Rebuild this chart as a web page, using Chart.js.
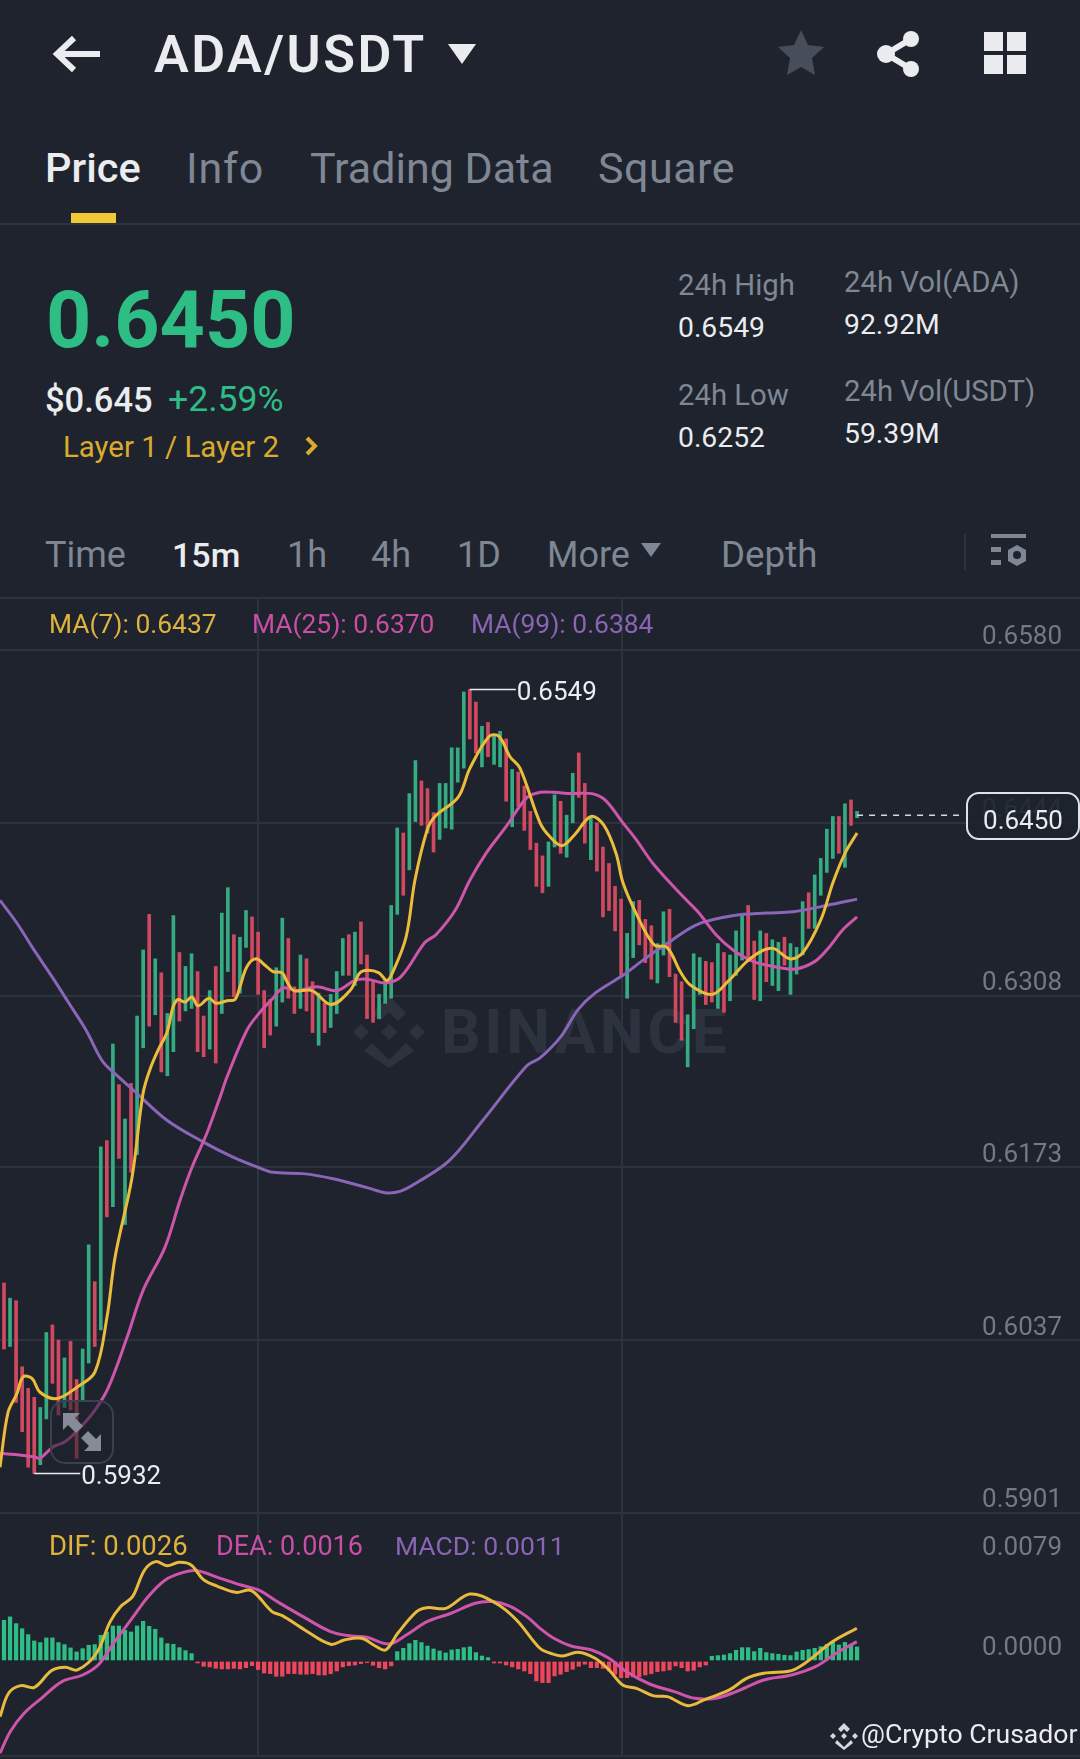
<!DOCTYPE html>
<html>
<head>
<meta charset="utf-8">
<title>ADA/USDT</title>
<script src="https://cdn.jsdelivr.net/npm/chart.js@4"></script>
<style>
html, body { margin: 0; padding: 0; background: #1e232d; }
#page { position: relative; width: 1080px; height: 1759px; overflow: hidden; background: #1e232d; font-family: Roboto, sans-serif; }
canvas { position: absolute; left: 0; }
.t { position: absolute; white-space: nowrap; line-height: 1; transform: translateY(-50%); }
.gray { color: #7f8794; }
.white { color: #eaecef; }
.rule { position: absolute; left: 0; width: 1080px; height: 2px; background: #2d333e; }
svg { position: absolute; }
</style>
</head>
<body>
<div id="page">

  <!-- header -->
  <svg style="left:52px;top:33px" width="52" height="42" viewBox="0 0 52 42"><path d="M48 21H6M22 5L5 21l17 16" fill="none" stroke="#eaecef" stroke-width="6"/></svg>
  <div class="t white" style="left:154px;top:55px;font-size:52px;font-weight:600;letter-spacing:2.5px">ADA/USDT</div>
  <svg style="left:447px;top:43px" width="30" height="22" viewBox="0 0 30 22"><path d="M1 1h28L15 21z" fill="#eaecef"/></svg>
  <svg style="left:777px;top:29px" width="48" height="48" viewBox="0 0 48 48"><path d="M24 1l7 15 16 2-12 11 3 17-14-8-14 8 3-17L1 18l16-2z" fill="#474d59"/></svg>
  <svg style="left:875px;top:30px" width="48" height="48" viewBox="0 0 48 48"><path d="M36 9L11 24l25 15" fill="none" stroke="#eaecef" stroke-width="6"/><circle cx="36" cy="9" r="8" fill="#eaecef"/><circle cx="11" cy="24" r="9" fill="#eaecef"/><circle cx="36" cy="39" r="8" fill="#eaecef"/></svg>
  <svg style="left:984px;top:32px" width="42" height="42" viewBox="0 0 42 42"><path d="M0 0h19v19H0zM23 0h19v19H23zM0 23h19v19H0zM23 23h19v19H23z" fill="#eaecef"/></svg>

  <div class="t white" style="left:45px;top:168px;font-size:41.5px;font-weight:500">Price</div>
  <div class="t gray" style="left:186px;top:168px;font-size:43px;letter-spacing:.8px">Info</div>
  <div class="t gray" style="left:310px;top:168px;font-size:43px">Trading Data</div>
  <div class="t gray" style="left:598px;top:168px;font-size:43px;letter-spacing:.5px">Square</div>
  <div style="position:absolute;left:71px;top:213px;width:45px;height:10px;background:#f0c935"></div>
  <div class="rule" style="top:223px"></div>

  <!-- price summary -->
  <div class="t" style="left:46px;top:320px;font-size:79px;font-weight:700;color:#2ebd85">0.6450</div>
  <div class="t white" style="left:45px;top:400px;font-size:34.5px;font-weight:500">$0.645</div>
  <div class="t" style="left:168px;top:400px;font-size:35.6px;color:#2ebd85">+2.59%</div>
  <div class="t" style="left:63px;top:448px;font-size:29.4px;color:#dcab2e">Layer 1 / Layer 2</div>
  <svg style="left:304px;top:436px" width="14" height="20" viewBox="0 0 14 20"><path d="M3 2l8 8-8 8" fill="none" stroke="#dcab2e" stroke-width="4"/></svg>

  <div class="t gray" style="left:678px;top:286px;font-size:29.3px">24h High</div>
  <div class="t white" style="left:678px;top:328px;font-size:28.3px">0.6549</div>
  <div class="t gray" style="left:678px;top:396px;font-size:29.3px">24h Low</div>
  <div class="t white" style="left:678px;top:438px;font-size:28.3px">0.6252</div>
  <div class="t gray" style="left:844px;top:283px;font-size:29.3px">24h Vol(ADA)</div>
  <div class="t white" style="left:844px;top:325px;font-size:28.3px">92.92M</div>
  <div class="t gray" style="left:844px;top:392px;font-size:29.3px">24h Vol(USDT)</div>
  <div class="t white" style="left:844px;top:434px;font-size:28.3px">59.39M</div>

  <!-- interval row -->
  <div class="t gray" style="left:45px;top:555px;font-size:36px">Time</div>
  <div class="t white" style="left:172px;top:555px;font-size:34px;font-weight:500">15m</div>
  <div class="t gray" style="left:287px;top:555px;font-size:36px">1h</div>
  <div class="t gray" style="left:371px;top:555px;font-size:36px">4h</div>
  <div class="t gray" style="left:457px;top:555px;font-size:36px">1D</div>
  <div class="t gray" style="left:547px;top:555px;font-size:36px">More</div>
  <svg style="left:641px;top:543px" width="20" height="14" viewBox="0 0 20 14"><path d="M0 0h20L10 14z" fill="#7f8794"/></svg>
  <div class="t gray" style="left:721px;top:555px;font-size:36.7px">Depth</div>
  <div style="position:absolute;left:964px;top:534px;width:2px;height:36px;background:#2d333e"></div>
  <svg style="left:990px;top:533px" width="38" height="38" viewBox="0 0 38 38"><path d="M1 1h35v4H1zM1 14h10v5H1zM1 27h10v5H1z" fill="#7f8794"/><path d="M27 12l9 5v11l-9 5-9-5V17z" fill="#7f8794"/><circle cx="27" cy="22" r="4" fill="#1e232d"/></svg>
  <div class="rule" style="top:597px"></div>

  <!-- watermark sits under the transparent canvas -->
  <svg style="left:351px;top:994px" width="76" height="76" viewBox="0 0 76 76"><path d="M38 2l17 17-8 8-9-9-9 9-8-8zM10 30l8 8-8 8-8-8zM66 30l8 8-8 8-8-8zM38 30l8 8-8 8-8-8zM21 49l17 17 17-17 8 8-25 17-25-17z" fill="#2d333e"/></svg>
  <div class="t" style="left:441px;top:1032px;font-size:62px;font-weight:700;letter-spacing:3.8px;color:#2d333e">BINANCE</div>

  <canvas id="priceChart" style="top:598px" width="1080" height="916"></canvas>
  <canvas id="macdChart" style="top:1513px" width="1080" height="242"></canvas>
  <div class="rule" style="top:1755px"></div>

  <!-- chart legends -->
  <div class="t" style="left:49px;top:624px;font-size:26.4px;color:#e0b33d">MA(7): 0.6437</div>
  <div class="t" style="left:252px;top:624px;font-size:26.4px;color:#c84fa5">MA(25): 0.6370</div>
  <div class="t" style="left:471px;top:624px;font-size:26.4px;color:#8a64b5">MA(99): 0.6384</div>
  <div class="t" style="left:49px;top:1546px;font-size:27.5px;color:#e0b33d">DIF: 0.0026</div>
  <div class="t" style="left:216px;top:1546px;font-size:27px;color:#c84fa5">DEA: 0.0016</div>
  <div class="t" style="left:395px;top:1546px;font-size:26.5px;color:#8a64b5">MACD: 0.0011</div>

  <!-- last price box -->
  <div class="t white" style="left:966px;top:816px;width:110px;height:44px;line-height:53px;text-align:center;font-size:26px;border:2px solid #dfe2e6;border-radius:13px;background:rgba(30,35,45,0.88)">0.6450</div>

  <!-- expand button -->
  <svg style="left:50px;top:1400px" width="64" height="64" viewBox="0 0 64 64"><rect x="1" y="1" width="62" height="62" rx="14" fill="rgba(30,35,45,0.55)" stroke="#3a404c" stroke-width="2"/><path d="M13 13h17l-5 5 8 8-7 7-8-8-5 5zM51 51H34l5-5-8-8 7-7 8 8 5-5z" fill="#858c98"/></svg>

  <!-- credit -->
  <svg style="left:830px;top:1722px" width="28" height="28" viewBox="0 0 28 28"><path d="M14 1l6 6-3 3-3-3-3 3-3-3zM3 11l3 3-3 3-3-3zM25 11l3 3-3 3-3-3zM14 11l3 3-3 3-3-3zM7 18l7 7 7-7 2 3-9 7-9-7z" fill="#d5d8dc"/></svg>
  <div class="t" style="left:861px;top:1734px;font-size:26.6px;color:#eaecef">@Crypto Crusador</div>
</div>

<script>
// candles, left to right
const candleHigh = [
    0.6082, 0.6070, 0.6068, 0.6016, 0.5999, 0.5992, 0.5984, 0.6043, 0.6049, 0.6037,
    0.6023, 0.6036, 0.6006, 0.6030, 0.6112, 0.6083, 0.6189, 0.6194, 0.6270, 0.6238,
    0.6211, 0.6239, 0.6292, 0.6344, 0.6372, 0.6337, 0.6326, 0.6294, 0.6371, 0.6342,
    0.6331, 0.6341, 0.6327, 0.6292, 0.6312, 0.6331, 0.6373, 0.6393, 0.6356, 0.6354,
    0.6375, 0.6370, 0.6358, 0.6312, 0.6305, 0.6330, 0.6369, 0.6353, 0.6315, 0.6340,
    0.6337, 0.6319, 0.6310, 0.6302, 0.6309, 0.6327, 0.6353, 0.6356, 0.6358, 0.6366,
    0.6340, 0.6319, 0.6309, 0.6320, 0.6379, 0.6440, 0.6436, 0.6467, 0.6493, 0.6477,
    0.6471, 0.6452, 0.6475, 0.6475, 0.6503, 0.6503, 0.6547, 0.6549, 0.6539, 0.6520,
    0.6523, 0.6512, 0.6516, 0.6510, 0.6486, 0.6484, 0.6473, 0.6453, 0.6428, 0.6418,
    0.6429, 0.6466, 0.6461, 0.6450, 0.6483, 0.6499, 0.6475, 0.6449, 0.6444, 0.6425,
    0.6412, 0.6394, 0.6384, 0.6357, 0.6382, 0.6383, 0.6368, 0.6363, 0.6349, 0.6374,
    0.6376, 0.6325, 0.6319, 0.6293, 0.6341, 0.6338, 0.6335, 0.6334, 0.6349, 0.6342,
    0.6340, 0.6359, 0.6371, 0.6379, 0.6351, 0.6359, 0.6357, 0.6352, 0.6350, 0.6354,
    0.6349, 0.6346, 0.6382, 0.6389, 0.6403, 0.6416, 0.6439, 0.6449, 0.6449, 0.6459,
    0.6462, 0.6453
];
const candleLow = [
    0.6030, 0.6032, 0.5988, 0.5965, 0.5937, 0.5932, 0.5939, 0.5975, 0.6003, 0.5978,
    0.5984, 0.5982, 0.5944, 0.5990, 0.6019, 0.6032, 0.6045, 0.6134, 0.6142, 0.6180,
    0.6128, 0.6169, 0.6183, 0.6267, 0.6284, 0.6293, 0.6248, 0.6245, 0.6264, 0.6288,
    0.6296, 0.6298, 0.6264, 0.6260, 0.6266, 0.6255, 0.6294, 0.6327, 0.6307, 0.6310,
    0.6346, 0.6336, 0.6309, 0.6267, 0.6277, 0.6284, 0.6303, 0.6306, 0.6294, 0.6298,
    0.6296, 0.6279, 0.6269, 0.6279, 0.6283, 0.6294, 0.6324, 0.6324, 0.6316, 0.6333,
    0.6290, 0.6287, 0.6290, 0.6302, 0.6306, 0.6372, 0.6387, 0.6407, 0.6445, 0.6442,
    0.6436, 0.6421, 0.6431, 0.6440, 0.6439, 0.6476, 0.6487, 0.6510, 0.6499, 0.6488,
    0.6496, 0.6490, 0.6488, 0.6461, 0.6441, 0.6457, 0.6438, 0.6423, 0.6394, 0.6389,
    0.6394, 0.6425, 0.6420, 0.6417, 0.6444, 0.6464, 0.6428, 0.6415, 0.6406, 0.6370,
    0.6375, 0.6359, 0.6324, 0.6306, 0.6338, 0.6348, 0.6334, 0.6321, 0.6318, 0.6340,
    0.6323, 0.6287, 0.6273, 0.6252, 0.6282, 0.6309, 0.6301, 0.6303, 0.6298, 0.6295,
    0.6304, 0.6324, 0.6336, 0.6335, 0.6305, 0.6304, 0.6319, 0.6316, 0.6312, 0.6332,
    0.6309, 0.6325, 0.6340, 0.6361, 0.6361, 0.6387, 0.6405, 0.6416, 0.6420, 0.6409,
    0.6442, 0.6448
];
// g = up, r = down
const candleDirs = [
    'r','g','r','r','r','r','g','g','r','r','g','r','r','g','g','r','g','r','g','r',
    'g','r','g','g','r','g','r','g','g','r','g','g','r','r','g','r','g','g','r','g',
    'g','r','r','r','r','g','g','r','r','g','r','r','g','r','g','g','g','r','g','r',
    'r','r','g','g','g','g','r','g','g','r','r','r','g','g','g','g','g','r','r','g',
    'r','g','g','r','g','r','r','r','r','r','g','g','r','g','g','r','r','g','r','r',
    'r','r','r','g','g','r','r','r','g','g','r','r','r','g','g','g','r','r','g','r',
    'g','g','g','r','r','g','r','g','g','r','g','g','g','r','g','g','g','g','r','g',
    'r','g'
];

// moving averages, read at the bends of each line
const ma7Idx = [-0.66,0.66,2.15,3.14,4.63,5.95,8.76,12.07,15.04,17.02,18.35,21.16,22.98,24.13,25.45,26.94,27.93,28.76,29.92,31.07,32.07,33.88,35.04,36.86,38.18,39,40.17,41.65,43.14,44.46,45.95,46.78,47.93,50.9,54.05,57.19,58.84,60.17,61.98,63.3,64.3,66.45,67.93,69.92,71.24,75.04,77.02,80.17,81.82,83.64,85.29,88.6,90.25,92.23,94.21,97.02,99.17,101.16,102.3,104.46,107.44,109.59,111.9,113.55,117.02,119.83,122.8,125.6,127.27,129.9,132.07,135.04,137.02,139,141];
const ma7 = [0.5937,0.5980,0.5995,0.6008,0.6007,0.5996,0.5991,0.6000,0.6012,0.6055,0.6102,0.6165,0.6231,0.6250,0.6265,0.6279,0.6299,0.6305,0.6303,0.6307,0.6300,0.6306,0.6302,0.6304,0.6305,0.6315,0.6331,0.6337,0.6332,0.6327,0.6326,0.6319,0.6312,0.6312,0.6301,0.6312,0.6326,0.6328,0.6326,0.6320,0.6327,0.6354,0.6399,0.6438,0.6449,0.6464,0.6487,0.6512,0.6512,0.6496,0.6487,0.6444,0.6433,0.6426,0.6434,0.6449,0.6442,0.6420,0.6397,0.6373,0.6348,0.6346,0.6326,0.6316,0.6309,0.6320,0.6335,0.6344,0.6345,0.6337,0.6342,0.6368,0.6397,0.6420,0.6436];
const ma25Idx = [-0.66,1.82,5.12,5.95,8.1,10.08,12.56,15.04,17.19,20.33,22.98,26.6,29.1,31.07,33.55,35.7,36.86,40.17,42.31,44.46,46.12,48.43,51.74,55.04,58.02,60,63.14,65.62,69.59,71.4,74.55,77.02,79.67,82.98,86.45,88.6,90.9,93.72,97.19,99.34,102.3,104.46,107.44,112.23,114.7,117.69,120.5,123.8,127.27,130.74,134.05,136.36,138.68,141];
const ma25 = [0.5948,0.5947,0.5945,0.5944,0.5953,0.5957,0.5968,0.5982,0.5999,0.6039,0.6076,0.6110,0.6147,0.6173,0.6200,0.6228,0.6244,0.6281,0.6295,0.6306,0.6314,0.6312,0.6315,0.6312,0.6320,0.6321,0.6318,0.6323,0.6350,0.6356,0.6375,0.6399,0.6420,0.6441,0.6464,0.6468,0.6468,0.6467,0.6467,0.6462,0.6444,0.6431,0.6411,0.6386,0.6374,0.6356,0.6344,0.6335,0.6331,0.6329,0.6335,0.6346,0.6360,0.6370];
const ma99Idx = [-0.66,2.15,4.96,7.93,10.74,13.55,16.2,18.02,21.32,26.94,32.89,37.85,41.98,44.46,49.42,54.38,60,62.98,65.45,68.26,73.55,79,86.45,88.6,92.07,94.88,97.69,102.3,105.62,109.59,114.55,120.5,126.1,130.4,136,141];
const ma99 = [0.6383,0.6365,0.6344,0.6323,0.6302,0.6281,0.6257,0.6248,0.6234,0.6210,0.6193,0.6181,0.6173,0.6169,0.6168,0.6164,0.6157,0.6153,0.6154,0.6161,0.6178,0.6209,0.6253,0.6259,0.6276,0.6297,0.6310,0.6324,0.6336,0.6349,0.6364,0.6371,0.6373,0.6374,0.6379,0.6384];

// macd panel
const macdHist = [
    0.00321,0.00348,0.00295,0.00255,0.00208,0.00158,0.00145,0.00182,0.00182,0.00145,
    0.00129,0.00103,0.00071,0.00097,0.00124,0.00129,0.00203,0.00229,0.00276,0.00276,
    0.00242,0.00229,0.00276,0.00313,0.00274,0.00250,0.00182,0.00137,0.00132,0.00105,
    0.00082,0.00058,-0.00016,-0.00042,-0.00047,-0.00058,-0.00063,-0.00063,-0.00058,-0.00063,
    -0.00053,-0.00037,-0.00068,-0.00095,-0.00100,-0.00121,-0.00121,-0.00100,-0.00100,-0.00105,
    -0.00105,-0.00100,-0.00111,-0.00111,-0.00100,-0.00079,-0.00047,-0.00037,-0.00032,-0.00021,
    -0.00013,-0.00034,-0.00053,-0.00063,-0.00039,0.00074,0.00100,0.00137,0.00163,0.00145,
    0.00118,0.00095,0.00079,0.00063,0.00087,0.00092,0.00105,0.00111,0.00066,0.00039,
    0.00026,-0.00016,-0.00016,-0.00032,-0.00047,-0.00063,-0.00079,-0.00100,-0.00158,-0.00171,
    -0.00171,-0.00118,-0.00105,-0.00084,-0.00066,-0.00042,-0.00026,-0.00053,-0.00053,-0.00058,
    -0.00079,-0.00105,-0.00132,-0.00132,-0.00126,-0.00126,-0.00111,-0.00100,-0.00084,-0.00079,
    -0.00071,-0.00039,-0.00053,-0.00079,-0.00074,-0.00047,-0.00032,0.00037,0.00042,0.00047,
    0.00058,0.00084,0.00105,0.00105,0.00074,0.00100,0.00066,0.00058,0.00053,0.00045,
    0.00042,0.00071,0.00084,0.00090,0.00100,0.00113,0.00132,0.00150,0.00126,0.00147,
    0.00132,0.00111
];
const difIdx = [-0.66,0.76,2.75,5.03,7.88,10.15,12.15,15.28,17.55,19.26,21.25,23.24,25.07,26.94,28.94,30.93,32.92,35.2,38.33,40.89,44.3,46.01,49.71,53.98,56.25,59.1,61.38,63.08,65.08,68.2,69.92,73.05,77.03,81.3,84.71,88.58,90.3,92.3,94.86,97.7,100,102.26,104.54,107.38,109.66,113.07,115.92,119.9,122.75,125.6,130.72,136.98,140.96];
const dif = [-0.0044,-0.00255,-0.00195,-0.00208,-0.00076,-0.0005,-0.00071,0.00061,0.00311,0.00429,0.00508,0.00719,0.00785,0.00753,0.00779,0.00758,0.00645,0.00592,0.00542,0.00556,0.0039,0.00358,0.00245,0.00132,0.00166,0.00179,0.00118,0.00087,0.00219,0.0039,0.00421,0.00416,0.00529,0.00456,0.00324,0.001,0.00061,0.00039,0.00068,0.00021,-0.00071,-0.0019,-0.00216,-0.00276,-0.00282,-0.00353,-0.00303,-0.00229,-0.00137,-0.00097,-0.00066,0.00153,0.00258];
const deaIdx = [-0.66,1.05,3.32,6.17,9.58,13,15.56,18.12,20.97,23.82,26.66,29.5,31.78,35.76,39.18,42.03,45.44,49.43,53.98,57.4,59.96,63.65,66.5,69.92,73.9,77.88,80.73,83.58,86.42,88.58,90.88,93.72,97.14,100,102.83,106.8,110.8,114.2,117.63,121,125.6,130.15,134.13,137.55,140.96];
const dea = [-0.00729,-0.00558,-0.00413,-0.00295,-0.00163,-0.00111,-0.00032,0.0014,0.00324,0.00508,0.0064,0.00698,0.00714,0.00653,0.006,0.00561,0.00461,0.0035,0.00232,0.00197,0.00187,0.00134,0.00205,0.00311,0.00377,0.00456,0.00469,0.00434,0.0035,0.00258,0.00179,0.00118,0.00087,0.00021,-0.00084,-0.00184,-0.00242,-0.00295,-0.00295,-0.00242,-0.0015,-0.00111,-0.00045,0.00061,0.00153];

// axis labels and marks
const priceTicks = [0.6580, 0.6444, 0.6308, 0.6173, 0.6037, 0.5901];
const macdTicks = [0.0079, 0];
const timeGrid = [42, 102.2];
const lastPrice = 0.6450;
const lastPriceEnd = 158.3;

const GREEN = '#36ab82';
const RED = '#cf4a60';
const GRID = '#2d333e';
const TICK_FONT = { family: 'Roboto', size: 26 };

// the scales must not take any room: both canvases are exactly the plot area
function noRoom(scale) {
    scale.paddingTop = scale.paddingBottom = scale.paddingLeft = scale.paddingRight = 0;
    if (scale.isHorizontal()) scale.height = 0;
    else scale.width = 0;
}

const xScale = {
    type: 'linear',
    min: -0.66,
    max: 177.85,
    offset: false,
    afterBuildTicks: scale => { scale.ticks = timeGrid.map(v => ({ value: v })); },
    afterFit: noRoom,
    ticks: { display: false },
    grid: { color: GRID, lineWidth: 2, drawTicks: false, offset: false },
    border: { display: false }
};

function yScale(tickValues, min, max, gridColor) {
    return {
        position: 'right',
        min: min,
        max: max,
        afterBuildTicks: scale => { scale.ticks = tickValues.map(v => ({ value: v })); },
        afterFit: noRoom,
        ticks: {
            mirror: true,
            padding: -18,
            labelOffset: -12,
            color: '#737a86',
            font: TICK_FONT,
            callback: v => v.toFixed(4)
        },
        grid: { color: gridColor, lineWidth: 2, drawTicks: false },
        border: { display: false }
    };
}

function lineSet(label, xs, ys, color, order) {
    return {
        type: 'line',
        label: label,
        data: xs.map((x, i) => ({ x: x, y: ys[i] })),
        borderColor: color,
        borderWidth: 3,
        pointRadius: 0,
        tension: 0.35,
        order: order
    };
}

// high / low call-outs on the price panel
const extremeLabels = {
    id: 'extremeLabels',
    afterDatasetsDraw(chart) {
        const { ctx, scales } = chart;
        const hi = candleHigh.indexOf(Math.max(...candleHigh));
        const lo = candleLow.indexOf(Math.min(...candleLow));
        [[hi, candleHigh[hi]], [lo, candleLow[lo]]].forEach(([i, v]) => {
            const x = scales.x.getPixelForValue(i);
            const y = scales.y.getPixelForValue(v);
            ctx.save();
            ctx.strokeStyle = '#eaecef';
            ctx.lineWidth = 1.5;
            ctx.beginPath();
            ctx.moveTo(x, y);
            ctx.lineTo(x + 46, y);
            ctx.stroke();
            ctx.fillStyle = '#eaecef';
            ctx.font = '26px Roboto';
            ctx.textBaseline = 'middle';
            ctx.fillText(v.toFixed(4), x + 47, y + 4);
            ctx.restore();
        });
    }
};

new Chart(document.getElementById('priceChart'), {
    type: 'bar',
    data: {
        datasets: [
            lineSet('MA(7)', ma7Idx, ma7, '#ecbc3c', 1),
            lineSet('MA(25)', ma25Idx, ma25, '#cf55ab', 2),
            lineSet('MA(99)', ma99Idx, ma99, '#8a65b8', 3),
            {
                type: 'line',
                label: 'Last',
                data: [{ x: 141, y: lastPrice }, { x: lastPriceEnd, y: lastPrice }],
                borderColor: '#d5d8dc',
                borderWidth: 1.5,
                borderDash: [6, 6],
                pointRadius: 0,
                order: 4
            },
            {
                label: 'ADA/USDT',
                data: candleHigh.map((h, i) => ({ x: i, y: [candleLow[i], h] })),
                backgroundColor: candleDirs.map(d => d === 'g' ? GREEN : RED),
                barThickness: 3,
                order: 5
            }
        ]
    },
    options: {
        responsive: false,
        animation: false,
        layout: { padding: 0 },
        plugins: { legend: { display: false }, tooltip: { enabled: false } },
        scales: {
            x: xScale,
            y: yScale(priceTicks, 0.59002, 0.66209, GRID)
        }
    },
    plugins: [extremeLabels]
});

new Chart(document.getElementById('macdChart'), {
    type: 'bar',
    data: {
        datasets: [
            lineSet('DIF', difIdx, dif, '#e8bb3e', 1),
            lineSet('DEA', deaIdx, dea, '#cf55ab', 2),
            {
                label: 'MACD',
                data: macdHist.map((v, i) => ({ x: i, y: v })),
                backgroundColor: macdHist.map(v => v >= 0 ? '#2fbd86' : '#f0465c'),
                barThickness: 3.6,
                order: 3
            }
        ]
    },
    options: {
        responsive: false,
        animation: false,
        layout: { padding: 0 },
        plugins: { legend: { display: false }, tooltip: { enabled: false } },
        scales: {
            x: xScale,
            y: yScale(macdTicks, -0.00743, 0.01169, 'rgba(0,0,0,0)')
        }
    }
});
</script>
</body>
</html>
